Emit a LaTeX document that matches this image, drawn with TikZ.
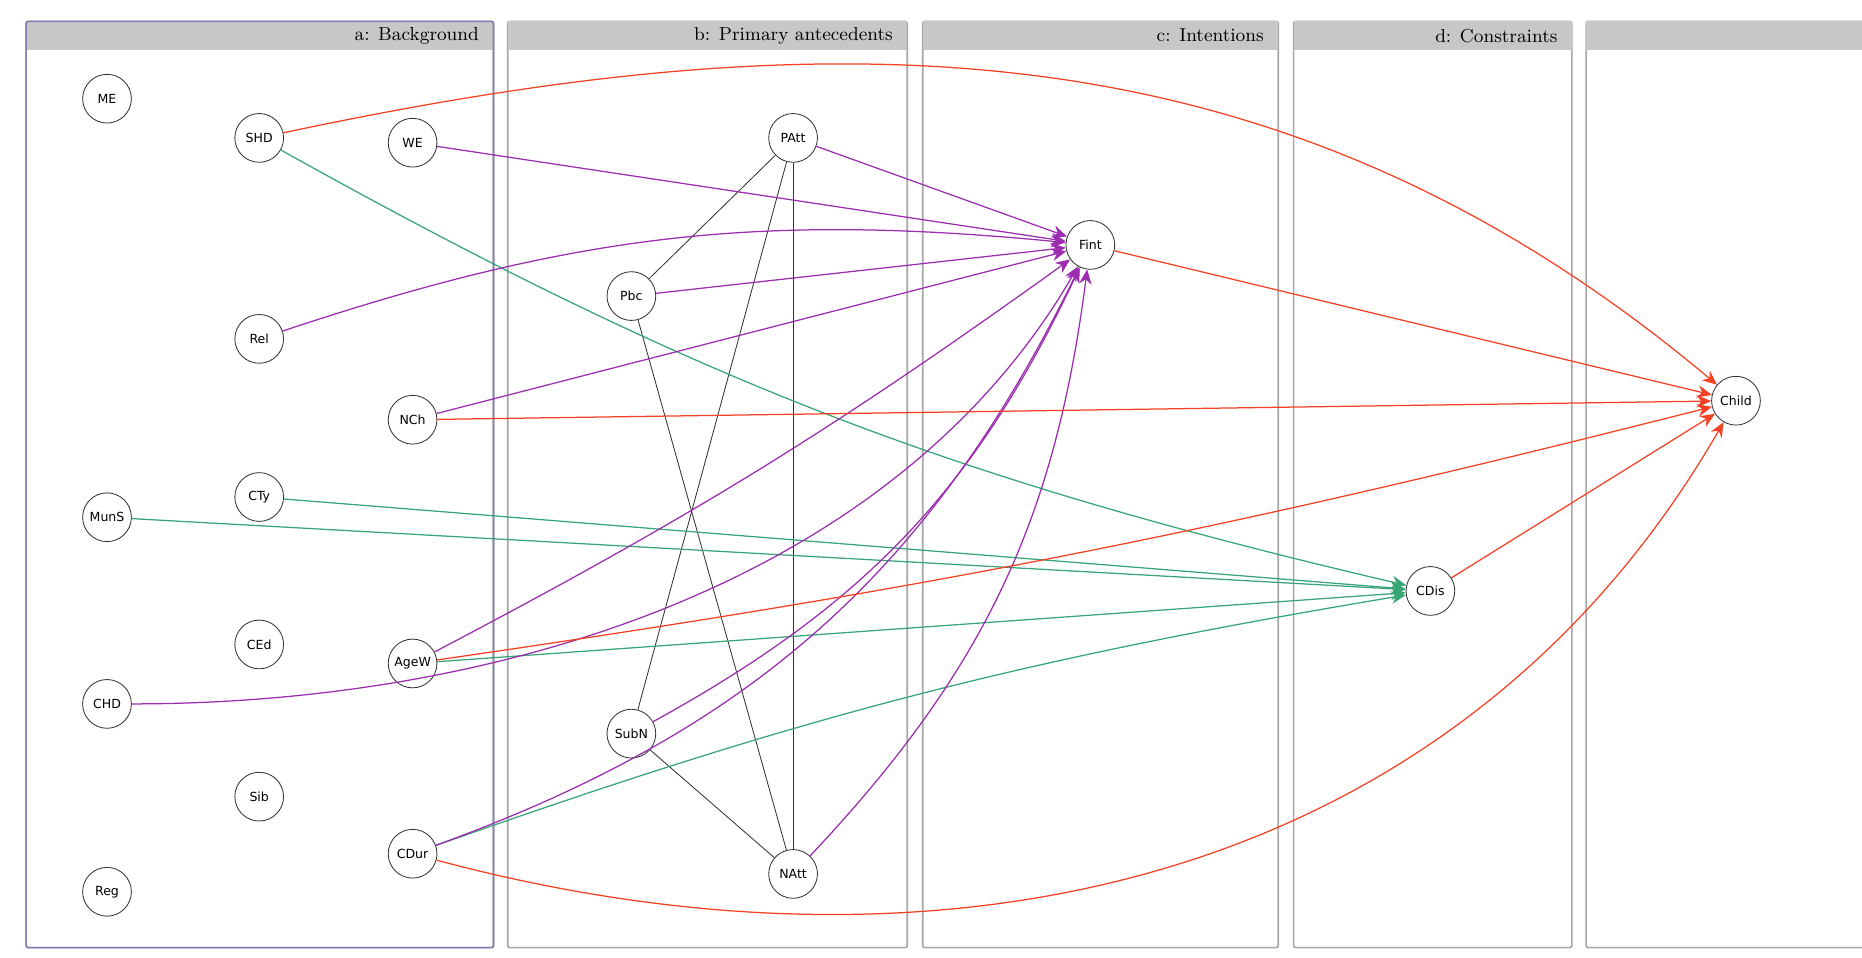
\documentclass[tikz,border=0pt]{standalone}
\usepackage{fontspec}
\newfontfamily\nodefont{DejaVu Sans}
\usetikzlibrary{arrows.meta}
\definecolor{pur}{RGB}{155,45,175}
\definecolor{rd}{RGB}{245,65,35}
\definecolor{gr}{RGB}{55,165,120}
\begin{document}
\begin{tikzpicture}
		[x=0.02cm,y=-0.02cm,
		var/.style={circle,draw=black!80,fill=white,inner sep=0pt,minimum size=0.82cm,font=\nodefont\fontsize{6}{7}\selectfont},
		panel/.style={draw=black!35,thick,rounded corners=1pt},
		htext/.style={anchor=east,font=\small},
		edgestyle/.style={-{Stealth[length=7pt,width=6pt]},semithick},
		pe/.style={edgestyle,pur},
		re/.style={edgestyle,rd},
		ge/.style={edgestyle,gr},
		le/.style={-,black!80,thin}]
		% panels
		\foreach \xa/\xb/\lab in {22/415/a: Background,427/763/b: Primary antecedents,776/1075/c: Intentions,1088/1322/d: Constraints,1334/1860/e: Fertility} {
			\draw[panel] (\xa,18) rectangle (\xb,797);
			\fill[black!22] (\xa,18) rectangle (\xb,42);
			\node[htext] at (\xb-6,30) {\lab};
		}
		\draw[panel,draw=blue!40!black!50] (22,18) rectangle (415,797);
		% nodes
		\node at (90,83) (ME) [var] {ME};
		\node at (218,116) (SHD) [var] {SHD};
		\node at (347,120) (WE) [var] {WE};
		\node at (218,285) (Rel) [var] {Rel};
		\node at (347,353) (NCh) [var] {NCh};
		\node at (218,418) (CTy) [var] {CTy};
		\node at (90,435) (MunS) [var] {MunS};
		\node at (218,542) (CEd) [var] {CEd};
		\node at (347,558) (AgeW) [var] {AgeW};
		\node at (90,592) (CHD) [var] {CHD};
		\node at (218,670) (Sib) [var] {Sib};
		\node at (347,718) (CDur) [var] {CDur};
		\node at (90,750) (Reg) [var] {Reg};
		\node at (667,116) (PAtt) [var] {PAtt};
		\node at (531,249) (Pbc) [var] {Pbc};
		\node at (531,617) (SubN) [var] {SubN};
		\node at (667,735) (NAtt) [var] {NAtt};
		\node at (917,206) (Fint) [var] {Fint};
		\node at (1203,497) (CDis) [var] {CDis};
		\node at (1460,337) (Child) [var] {Child};
		% links among attitudes
		\draw[le] (PAtt) -- (Pbc);
		\draw[le] (PAtt) -- (SubN);
		\draw[le] (PAtt) -- (NAtt);
		\draw[le] (Pbc) -- (NAtt);
		\draw[le] (SubN) -- (NAtt);
		% green
		\draw[ge] (SHD) to[bend right=8] (CDis);
		\draw[ge] (CTy) -- (CDis);
		\draw[ge] (MunS) -- (CDis);
		\draw[ge] (AgeW) -- (CDis);
		\draw[ge] (CDur) to[bend left=5] (CDis);
		% purple
		\draw[pe] (WE) -- (Fint);
		\draw[pe] (Rel) to[bend left=12] (Fint);
		\draw[pe] (NCh) -- (Fint);
		\draw[pe] (Pbc) -- (Fint);
		\draw[pe] (PAtt) -- (Fint);
		\draw[pe] (AgeW) to[bend right=4] (Fint);
		\draw[pe] (CHD) to[out=0,in=240,looseness=0.9] (Fint);
		\draw[pe] (SubN) to[bend right=18] (Fint);
		\draw[pe] (CDur) to[bend right=22] (Fint);
		\draw[pe] (NAtt) to[bend right=18] (Fint);
		% red
		\draw[re] (SHD) to[out=12,in=140] (Child);
		\draw[re] (Fint) -- (Child);
		\draw[re] (NCh) -- (Child);
		\draw[re] (AgeW) to[bend right=3] (Child);
		\draw[re] (CDis) -- (Child);
		\draw[re] (CDur) to[out=-15,in=240] (Child);
		\pgfresetboundingbox
		\path[use as bounding box] (0,0) rectangle (1566,805);
	\end{tikzpicture}
\end{document}
